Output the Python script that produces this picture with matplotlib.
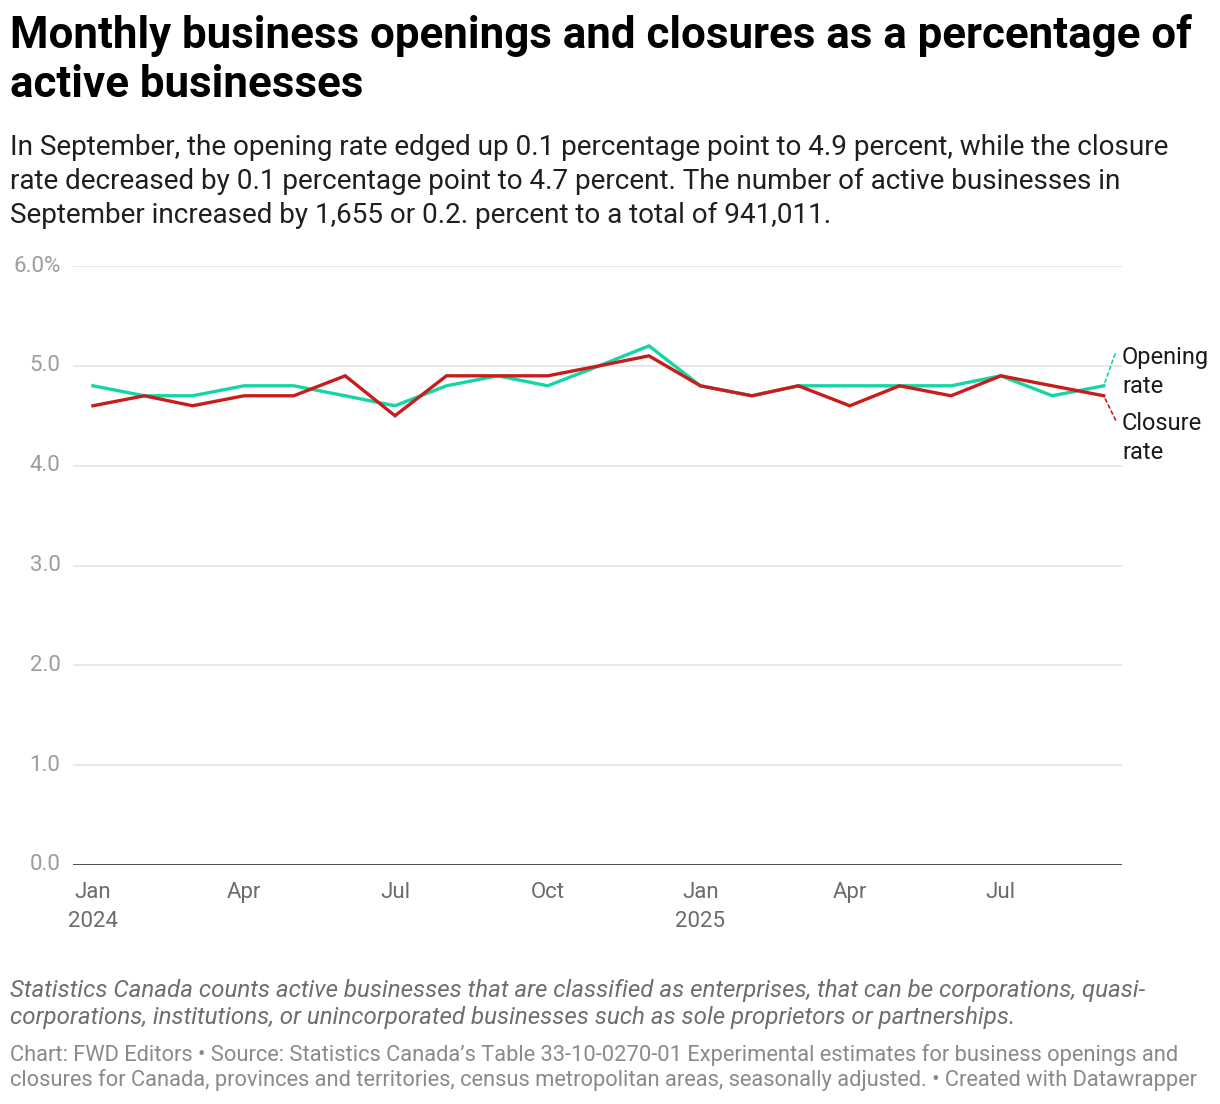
import matplotlib
matplotlib.use("Agg")
import matplotlib.pyplot as plt
import datetime as dt

plt.rcParams['font.family'] = ['Roboto', 'DejaVu Sans']

months = [dt.date(2024, m, 1) for m in range(1, 13)] + [dt.date(2025, m, 1) for m in range(1, 10)]
opening_rate = [4.8, 4.7, 4.7, 4.8, 4.8, 4.7, 4.6, 4.8, 4.9, 4.8, 5.0, 5.2,
                4.8, 4.7, 4.8, 4.8, 4.8, 4.8, 4.9, 4.7, 4.8]
closure_rate = [4.6, 4.7, 4.6, 4.7, 4.7, 4.9, 4.5, 4.9, 4.9, 4.9, 5.0, 5.1,
                4.8, 4.7, 4.8, 4.6, 4.8, 4.7, 4.9, 4.8, 4.7]
y_ticks = [0, 1, 2, 3, 4, 5, 6]
y_tick_labels = ["0.0", "1.0", "2.0", "3.0", "4.0", "5.0", "6.0%"]
x_tick_dates = [dt.date(2024, 1, 1), dt.date(2024, 4, 1), dt.date(2024, 7, 1), dt.date(2024, 10, 1),
                dt.date(2025, 1, 1), dt.date(2025, 4, 1), dt.date(2025, 7, 1)]
x_tick_labels = ["Jan\n2024", "Apr", "Jul", "Oct", "Jan\n2025", "Apr", "Jul"]

title = "Monthly business openings and closures as a percentage of\nactive businesses"
subtitle = ("In September, the opening rate edged up 0.1 percentage point to 4.9 percent, while the closure\n"
            "rate decreased by 0.1 percentage point to 4.7 percent. The number of active businesses in\n"
            "September increased by 1,655 or 0.2. percent to a total of 941,011.")
note = ("Statistics Canada counts active businesses that are classified as enterprises, that can be corporations, quasi-\n"
        "corporations, institutions, or unincorporated businesses such as sole proprietors or partnerships.")
footer = ("Chart: FWD Editors \u2022 Source: Statistics Canada\u2019s Table 33-10-0270-01 Experimental estimates for business openings and\n"
          "closures for Canada, provinces and territories, census metropolitan areas, seasonally adjusted. \u2022 Created with Datawrapper")

GREEN = "#14d6a4"
RED = "#c71e1d"

W, H = 1220, 1104
fig = plt.figure(figsize=(W / 100, H / 100), dpi=100)
fig.patch.set_facecolor("white")

def fx(px):
    return px / W

def fy(py):
    return 1 - py / H

ax = fig.add_axes([fx(73), fy(865), fx(1122) - fx(73), fy(266) - fy(865)])
ax.set_facecolor("white")

ax.plot(months, opening_rate, color=GREEN, lw=2.4, solid_joinstyle="miter", zorder=3)
ax.plot(months, closure_rate, color=RED, lw=2.4, solid_joinstyle="miter", zorder=4)

ax.set_ylim(0, 6)
ax.set_xlim(dt.date(2023, 12, 20), dt.date(2025, 9, 12))
ax.set_yticks(y_ticks)
ax.set_yticklabels(y_tick_labels)
ax.set_xticks(x_tick_dates)
ax.set_xticklabels(x_tick_labels, linespacing=1.55)

for s in ax.spines.values():
    s.set_visible(False)
ax.grid(axis="y", color="#e3e3e3", lw=1.2, zorder=0)
ax.axhline(0, color="#222222", lw=1.8, zorder=5)
ax.tick_params(axis="y", length=0, pad=9, labelsize=16, labelcolor="#9c9c9c")
ax.tick_params(axis="x", length=0, pad=12, labelsize=16, labelcolor="#6b6b6b")
for lab in ax.get_yticklabels():
    lab.set_verticalalignment("center")

# direct labels with dotted connectors
last = months[-1]
ax.annotate("Opening\nrate", xy=(last, opening_rate[-1]), xycoords="data",
            xytext=(1122 / W, fy(372)), textcoords="figure fraction",
            ha="left", va="center", fontsize=17, color="#1a1a1a", linespacing=1.3,
            arrowprops=dict(arrowstyle="-", color=GREEN, lw=1.2, linestyle=(0, (2, 2)),
                            shrinkA=0, shrinkB=0, relpos=(-0.08, 0.85)))
ax.annotate("Closure\nrate", xy=(last, closure_rate[-1]), xycoords="data",
            xytext=(1122 / W, fy(438)), textcoords="figure fraction",
            ha="left", va="center", fontsize=17, color="#1a1a1a", linespacing=1.3,
            arrowprops=dict(arrowstyle="-", color=RED, lw=1.2, linestyle=(0, (2, 2)),
                            shrinkA=0, shrinkB=0, relpos=(-0.08, 0.85)))

fig.text(fx(10), fy(14), title, ha="left", va="top", fontsize=31.6, fontweight="bold",
         color="#000000", linespacing=1.2)
fig.text(fx(10), fy(134), subtitle, ha="left", va="top", fontsize=20.05,
         color="#1f1f1f", linespacing=1.32)
fig.text(fx(10), fy(979), note, ha="left", va="top", fontsize=17.4, style="italic",
         color="#6e6e6e", linespacing=1.22)
fig.text(fx(10), fy(1044), footer, ha="left", va="top", fontsize=15.75,
         color="#8a8a8a", linespacing=1.2)

fig.savefig("out.png", dpi=100, facecolor="white")
